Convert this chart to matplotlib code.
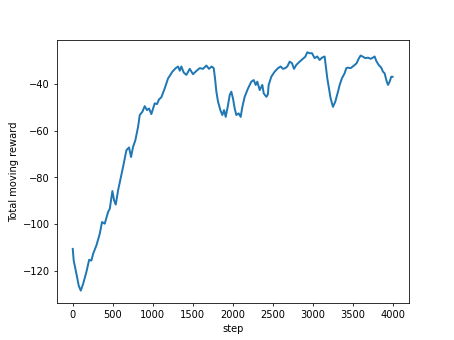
import matplotlib.pyplot as plt

# points (step, moving reward)
steps = [0, 12, 46, 75, 100, 130, 170, 205, 233, 255, 296, 338, 366, 400,
         442, 463, 496, 517, 538, 567, 596, 629, 671, 704, 729, 754, 783,
         817, 838, 871, 900, 929, 954, 983, 1025, 1054, 1079, 1108, 1150,
         1192, 1221, 1246, 1288, 1317, 1338, 1358, 1388, 1421, 1463, 1504,
         1546, 1588, 1629, 1671, 1704, 1738, 1763, 1779, 1796, 1817, 1846,
         1871, 1892, 1913, 1942, 1963, 1983, 2004, 2025, 2046, 2075, 2100,
         2121, 2150, 2192, 2233, 2263, 2288, 2308, 2338, 2371, 2388, 2421,
         2440, 2450, 2483, 2525, 2567, 2600, 2629, 2658, 2683, 2713, 2742,
         2767, 2796, 2838, 2879, 2908, 2933, 2963, 2992, 3025, 3058, 3088,
         3117, 3150, 3163, 3183, 3204, 3225, 3254, 3283, 3317, 3338, 3367,
         3400, 3421, 3442, 3475, 3517, 3550, 3575, 3600, 3629, 3658, 3692,
         3725, 3754, 3775, 3796, 3825, 3858, 3879, 3900, 3921, 3942, 3963,
         3983, 4000]
reward = [-110.7, -115.7, -121.4, -126.5, -128.6, -125.7, -120.7, -115.4,
          -115.7, -112.8, -109.2, -104.2, -99.2, -99.9, -94.9, -93.5, -85.9,
          -89.9, -91.7, -85.6, -81.0, -75.6, -68.4, -67.2, -71.3, -67.0,
          -64.1, -58.4, -53.3, -51.9, -49.5, -51.2, -50.5, -52.9, -48.3,
          -48.6, -46.6, -45.7, -41.9, -37.6, -36.1, -34.7, -33.2, -32.5,
          -34.3, -32.5, -35.1, -36.1, -33.5, -35.8, -34.4, -33.2, -33.5,
          -32.1, -33.5, -32.5, -33.2, -37.5, -43.3, -47.6, -51.2, -53.3,
          -51.2, -54.1, -49.0, -44.7, -43.3, -46.2, -50.5, -53.3, -52.6,
          -54.1, -49.8, -45.5, -41.9, -39.0, -38.3, -40.4, -39.0, -42.6,
          -40.4, -44.0, -45.5, -44.5, -40.4, -36.9, -34.7, -33.2, -32.5,
          -33.5, -33.2, -32.5, -30.4, -31.1, -33.5, -31.8, -30.4, -29.2,
          -28.3, -26.4, -26.8, -26.8, -28.9, -28.2, -29.7, -28.7, -28.2,
          -31.8, -37.5, -41.8, -46.2, -49.8, -47.6, -43.3, -40.4, -37.5,
          -35.4, -33.2, -33.0, -33.2, -32.1, -31.1, -29.2, -27.8, -28.3,
          -28.9, -28.7, -29.2, -28.7, -28.2, -30.1, -31.8, -33.0, -34.7,
          -35.4, -38.3, -40.4, -39.0, -36.9, -36.9]

fig = plt.figure(figsize=(6.4, 4.8), dpi=454 / 6.4)
plt.plot(steps, reward, linewidth=2)
plt.xlabel("step")
plt.ylabel("Total moving reward")
fig.savefig("out.png", dpi=454 / 6.4)
